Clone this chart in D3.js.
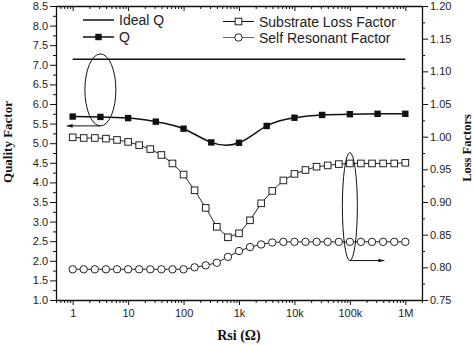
<!DOCTYPE html>
<html>
<head>
<meta charset="utf-8">
<script src="https://cdn.jsdelivr.net/npm/d3@7"></script>
<style>
  body { margin: 0; background: #fff; }
  text { font-family: Arial, "Liberation Sans", sans-serif; fill: #222; }
  .title { font-family: "Times New Roman", "Liberation Serif", serif; font-weight: bold; fill: #111; }
</style>
</head>
<body>
<div id="chart"></div>
<script>
// data
const qX = [1, 3.16, 10, 31.6, 100, 316, 1000, 3160, 10000, 31600, 100000, 316000, 1000000];
const qVals = [5.68, 5.67, 5.64, 5.55, 5.37, 5.02, 5.01, 5.44, 5.65, 5.72, 5.74, 5.75, 5.75];
const idealQ = 7.14;

const lossX = [1, 1.58, 2.51, 3.98, 6.31, 10, 15.8, 25.1, 39.8, 63.1,
    100, 158, 251, 398, 631, 1000, 1580, 2510, 3980, 6310,
    10000, 15800, 25100, 39800, 63100, 100000, 158000, 251000, 398000, 631000, 1000000];
const substrateLoss = [0.999, 0.998, 0.998, 0.997, 0.995, 0.992, 0.987, 0.981, 0.972, 0.959,
    0.942, 0.918, 0.891, 0.862, 0.846, 0.852, 0.872, 0.898, 0.917, 0.933,
    0.943, 0.949, 0.954, 0.956, 0.958, 0.959, 0.959, 0.959, 0.959, 0.959, 0.960];
const selfResonant = [0.797, 0.797, 0.797, 0.797, 0.797, 0.797, 0.797, 0.797, 0.797, 0.797,
    0.797, 0.800, 0.803, 0.807, 0.816, 0.825, 0.831, 0.835, 0.838, 0.839,
    0.839, 0.839, 0.839, 0.839, 0.839, 0.839, 0.839, 0.839, 0.839, 0.839, 0.839];

const xTicks = [1, 10, 100, 1000, 10000, 100000, 1000000];
const xTickLabels = ["1", "10", "100", "1k", "10k", "100k", "1M"];
const leftTicks = [1.0, 1.5, 2.0, 2.5, 3.0, 3.5, 4.0, 4.5, 5.0, 5.5, 6.0, 6.5, 7.0, 7.5, 8.0, 8.5];
const rightTicks = [0.75, 0.80, 0.85, 0.90, 0.95, 1.00, 1.05, 1.10, 1.15, 1.20];

const W = 474, H = 345;
const margin = { top: 6, right: 52, bottom: 45, left: 56 };

const svg = d3.select("#chart").append("svg")
    .attr("width", W).attr("height", H);

const x = d3.scaleLog().domain([0.5, 2000000]).range([margin.left, W - margin.right]);
const yL = d3.scaleLinear().domain([1.0, 8.5]).range([H - margin.bottom, margin.top]);
const yR = d3.scaleLinear().domain([0.75, 1.20]).range([H - margin.bottom, margin.top]);

// minor log ticks
const minorX = [];
for (let e = -1; e <= 6; e++) {
    for (let m = 2; m <= 9; m++) {
        const v = m * Math.pow(10, e);
        if (v >= 0.5 && v <= 2000000) minorX.push(v);
    }
}

// bottom axis
svg.append("g")
    .attr("transform", `translate(0,${H - margin.bottom})`)
    .call(d3.axisBottom(x).tickValues(xTicks).tickFormat((d, i) => xTickLabels[i]).tickSize(5).tickPadding(4).tickSizeOuter(0))
    .call(g => g.selectAll("text").attr("font-size", 11).attr("font-family", "Arial, 'Liberation Sans', sans-serif"));
svg.append("g")
    .attr("transform", `translate(0,${H - margin.bottom})`)
    .call(d3.axisBottom(x).tickValues(minorX).tickFormat("").tickSize(3).tickSizeOuter(0))
    .call(g => g.select(".domain").remove());

// top axis (inward ticks)
svg.append("g")
    .attr("transform", `translate(0,${margin.top})`)
    .call(d3.axisBottom(x).tickValues(xTicks).tickFormat("").tickSize(5).tickSizeOuter(0));
svg.append("g")
    .attr("transform", `translate(0,${margin.top})`)
    .call(d3.axisBottom(x).tickValues(minorX).tickFormat("").tickSize(3).tickSizeOuter(0))
    .call(g => g.select(".domain").remove());

// left axis
const leftMinor = leftTicks.slice(0, -1).map(d => d + 0.25);
svg.append("g")
    .attr("transform", `translate(${margin.left},0)`)
    .call(d3.axisLeft(yL).tickValues(leftTicks).tickFormat(d3.format(".1f")).tickSize(6).tickPadding(2).tickSizeOuter(0))
    .call(g => g.selectAll("text").attr("font-size", 11).attr("font-family", "Arial, 'Liberation Sans', sans-serif"));
svg.append("g")
    .attr("transform", `translate(${margin.left},0)`)
    .call(d3.axisLeft(yL).tickValues(leftMinor).tickFormat("").tickSize(3).tickSizeOuter(0))
    .call(g => g.select(".domain").remove());

// right axis
const rightMinor = rightTicks.slice(0, -1).map(d => d + 0.025);
svg.append("g")
    .attr("transform", `translate(${W - margin.right},0)`)
    .call(d3.axisRight(yR).tickValues(rightTicks).tickFormat(d3.format(".2f")).tickSize(6).tickPadding(2).tickSizeOuter(0))
    .call(g => g.selectAll("text").attr("font-size", 11).attr("font-family", "Arial, 'Liberation Sans', sans-serif"));
svg.append("g")
    .attr("transform", `translate(${W - margin.right},0)`)
    .call(d3.axisRight(yR).tickValues(rightMinor).tickFormat("").tickSize(3).tickSizeOuter(0))
    .call(g => g.select(".domain").remove());

svg.selectAll(".domain").attr("stroke", "#111").attr("stroke-width", 1.3);
svg.selectAll(".tick line").attr("stroke", "#111");

// axis titles
svg.append("text").attr("class", "title")
    .attr("x", (margin.left + W - margin.right) / 2).attr("y", 340)
    .attr("text-anchor", "middle").attr("font-size", 14)
    .text("Rsi (Ω)");
svg.append("text").attr("class", "title")
    .attr("transform", `translate(12,${142}) rotate(-90)`)
    .attr("text-anchor", "middle").attr("font-size", 13)
    .text("Quality Factor");
svg.append("text").attr("class", "title")
    .attr("transform", `translate(471,${148}) rotate(-90)`)
    .attr("text-anchor", "middle").attr("font-size", 12.5)
    .text("Loss Factors");

// ideal Q
svg.append("line")
    .attr("x1", x(qX[0])).attr("x2", x(qX[qX.length - 1]))
    .attr("y1", yL(idealQ)).attr("y2", yL(idealQ))
    .attr("stroke", "#111").attr("stroke-width", 1.5);

// Q
svg.append("path")
    .datum(qX.map((d, i) => [d, qVals[i]]))
    .attr("fill", "none").attr("stroke", "#111").attr("stroke-width", 1.5)
    .attr("d", d3.line().x(d => x(d[0])).y(d => yL(d[1])).curve(d3.curveNatural));
svg.selectAll(".qpt").data(qX).enter().append("rect")
    .attr("x", d => x(d) - 3.2).attr("y", (d, i) => yL(qVals[i]) - 3.2)
    .attr("width", 6.4).attr("height", 6.4).attr("fill", "#111");

// substrate loss
svg.append("path")
    .datum(lossX.map((d, i) => [d, substrateLoss[i]]))
    .attr("fill", "none").attr("stroke", "#222").attr("stroke-width", 1)
    .attr("d", d3.line().x(d => x(d[0])).y(d => yR(d[1])));
svg.selectAll(".spt").data(lossX).enter().append("rect")
    .attr("x", d => x(d) - 3.3).attr("y", (d, i) => yR(substrateLoss[i]) - 3.3)
    .attr("width", 6.6).attr("height", 6.6)
    .attr("fill", "#fff").attr("stroke", "#222").attr("stroke-width", 1);

// self resonant
svg.append("path")
    .datum(lossX.map((d, i) => [d, selfResonant[i]]))
    .attr("fill", "none").attr("stroke", "#222").attr("stroke-width", 1)
    .attr("d", d3.line().x(d => x(d[0])).y(d => yR(d[1])));
svg.selectAll(".rpt").data(lossX).enter().append("circle")
    .attr("cx", d => x(d)).attr("cy", (d, i) => yR(selfResonant[i]))
    .attr("r", 3.7)
    .attr("fill", "#fff").attr("stroke", "#222").attr("stroke-width", 1);

// annotations: ellipses with arrows
svg.append("defs").append("marker")
    .attr("id", "arr").attr("viewBox", "0 0 10 10")
    .attr("refX", 10).attr("refY", 5)
    .attr("markerWidth", 6).attr("markerHeight", 6)
    .attr("orient", "auto")
    .append("path").attr("d", "M0,2L10,5L0,8Z").attr("fill", "#111");

const ellL = { cx: 3.16, cy: 6.36, rx: 15.5, ry: 36 };
svg.append("ellipse")
    .attr("cx", x(ellL.cx)).attr("cy", yL(ellL.cy))
    .attr("rx", ellL.rx).attr("ry", ellL.ry)
    .attr("fill", "none").attr("stroke", "#111").attr("stroke-width", 1);
svg.append("line")
    .attr("x1", x(ellL.cx)).attr("y1", yL(ellL.cy) + ellL.ry)
    .attr("x2", x(0.78)).attr("y2", yL(ellL.cy) + ellL.ry)
    .attr("stroke", "#111").attr("stroke-width", 1).attr("marker-end", "url(#arr)");

const ellR = { cx: 100000, cy: 0.893, rx: 7.5, ry: 54 };
svg.append("ellipse")
    .attr("cx", x(ellR.cx)).attr("cy", yR(ellR.cy))
    .attr("rx", ellR.rx).attr("ry", ellR.ry)
    .attr("fill", "none").attr("stroke", "#111").attr("stroke-width", 1);
svg.append("line")
    .attr("x1", x(ellR.cx)).attr("y1", yR(ellR.cy) + ellR.ry)
    .attr("x2", x(420000)).attr("y2", yR(ellR.cy) + ellR.ry)
    .attr("stroke", "#111").attr("stroke-width", 1).attr("marker-end", "url(#arr)");

// legend
const legend = svg.append("g");
const legL = [
    { name: "Ideal Q", y: 20, mark: null },
    { name: "Q", y: 37, mark: "fsq" }
];
const legR = [
    { name: "Substrate Loss Factor", y: 21.5, mark: "osq" },
    { name: "Self Resonant Factor", y: 37.5, mark: "circ" }
];
function drawLegend(items, x0) {
    items.forEach(it => {
        legend.append("line")
            .attr("x1", x0).attr("x2", x0 + 31).attr("y1", it.y).attr("y2", it.y)
            .attr("stroke", it.mark === "circ" ? "#666" : "#111").attr("stroke-width", it.mark === "osq" || it.mark === "circ" ? 1 : 1.5);
        const cx = x0 + 15.5;
        if (it.mark === "fsq") {
            legend.append("rect").attr("x", cx - 3.2).attr("y", it.y - 3.2).attr("width", 6.4).attr("height", 6.4).attr("fill", "#111");
        } else if (it.mark === "osq") {
            legend.append("rect").attr("x", cx - 3.3).attr("y", it.y - 3.3).attr("width", 6.6).attr("height", 6.6)
                .attr("fill", "#fff").attr("stroke", "#222");
        } else if (it.mark === "circ") {
            legend.append("circle").attr("cx", cx).attr("cy", it.y).attr("r", 3.7).attr("fill", "#fff").attr("stroke", "#222");
        }
        legend.append("text").attr("x", x0 + 36).attr("y", it.y + 5)
            .attr("font-size", 14).text(it.name);
    });
}
drawLegend(legL, 83);
drawLegend(legR, 223);
</script>
</body>
</html>
